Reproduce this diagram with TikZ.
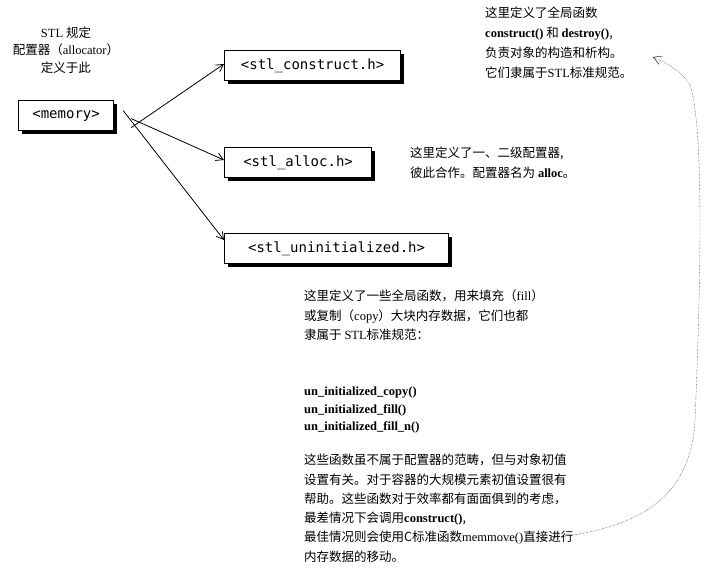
\documentclass[tikz,border=0pt]{standalone}
\usepackage{fontspec}
\setmainfont{Liberation Serif}
\newfontfamily\cjk{Noto Sans CJK SC}
\newfontfamily\monof{DejaVu Sans Mono}
\usetikzlibrary{arrows.meta,shadows}
\begin{document}
\begin{tikzpicture}[x=1pt,y=-1pt,
  fbox/.style={draw,line width=1.2pt,fill=white,font=\monof\fontsize{14}{16}\selectfont,inner sep=0pt,minimum height=30pt,anchor=north west,
    drop shadow={shadow xshift=3pt,shadow yshift=-3pt,fill=black,opacity=1}},
  note/.style={anchor=north west,align=left,font=\cjk\fontsize{12.5}{20}\selectfont,inner sep=0pt},
  arr/.style={-{Straight Barb[length=7pt,width=8pt]},line width=0.8pt}]
\useasboundingbox (0,0) rectangle (716,569);
\node[align=center,font=\cjk\fontsize{12.5}{17.5}\selectfont,inner sep=0pt] (title) at (66,50) {{\rmfamily STL} 规定\\配置器（{\rmfamily allocator}）\\定义于此};
\node[fbox,minimum width=95pt] (mem) at (18,100) {<memory>};
\node[fbox,minimum width=176pt] (con) at (224,50) {<stl\_construct.h>};
\node[fbox,minimum width=147pt] (all) at (224,147) {<stl\_alloc.h>};
\node[fbox,minimum width=224pt] (uni) at (224,233) {<stl\_uninitialized.h>};
\draw[arr] ([xshift=17pt,yshift=-12pt]mem.east) -- (con.west|-0,64);
\draw[arr] ([xshift=17pt,yshift=-3pt]mem.east) -- (all.west|-0,160);
\draw[arr] ([xshift=9pt,yshift=5pt]mem.east) -- (uni.west|-0,240);
\node[note] (n1) at (485,7) {这里定义了全局函数\\{\rmfamily\bfseries construct()} 和 {\rmfamily\bfseries destroy()},\\负责对象的构造和析构。\\它们隶属于{\rmfamily STL}标准规范。};
\node[note] (n2) at (410,147) {这里定义了一、二级配置器,\\彼此合作。配置器名为 {\rmfamily\bfseries alloc}。};
\node[note,font=\cjk\fontsize{12.5}{19.5}\selectfont] (n3) at (304,290) {这里定义了一些全局函数，用来填充（{\rmfamily fill}）\\或复制（{\rmfamily copy}）大块内存数据，它们也都\\隶属于 {\rmfamily STL}标准规范：};
\node[note,font=\rmfamily\bfseries\fontsize{12.5}{17.5}\selectfont] (n4) at (304,387) {un\_initialized\_copy()\\un\_initialized\_fill()\\un\_initialized\_fill\_n()};
\node[note,font=\cjk\fontsize{12.5}{19.3}\selectfont] (n5) at (304,454) {这些函数虽不属于配置器的范畴，但与对象初值\\设置有关。对于容器的大规模元素初值设置很有\\帮助。这些函数对于效率都有面面俱到的考虑，\\最差情况下会调用{\rmfamily\bfseries construct()},\\最佳情况则会使用C标准函数{\rmfamily memmove()}直接进行\\内存数据的移动。};
\coordinate (s) at (490,541);
\coordinate (t) at (653,57);
\draw[densely dotted,-{Straight Barb[length=8pt,width=9pt]}] (s) .. controls (640,540) and (690,500) .. (695,420)
  .. controls (700,300) and (705,130) .. (690,85) .. controls (680,70) and (665,62) .. (t);
\end{tikzpicture}
\end{document}
